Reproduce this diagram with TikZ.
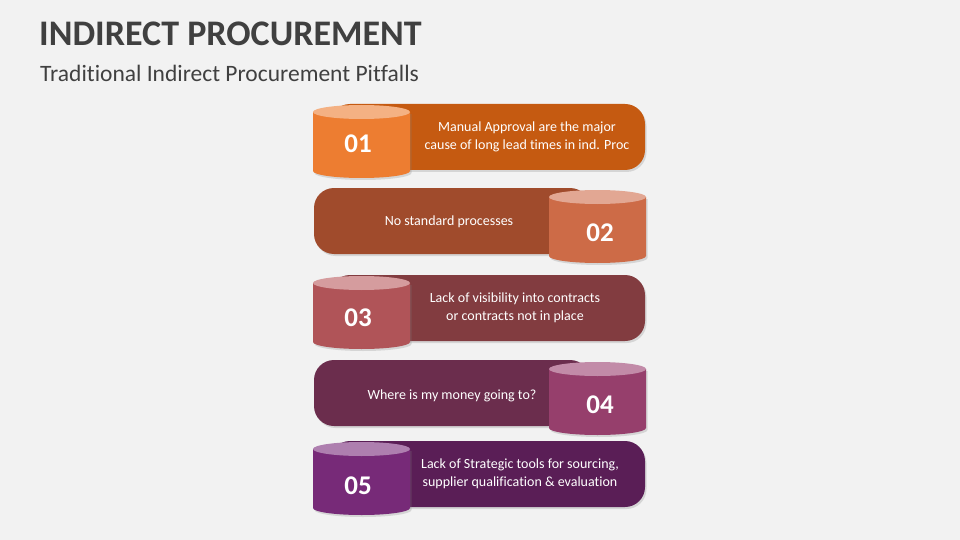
\documentclass[tikz,border=0pt]{standalone}
\usepackage{fontspec}
\setmainfont[Ligatures=NoCommon]{Carlito}
\usetikzlibrary{shadows}
\definecolor{bg}{HTML}{F2F2F2}
\definecolor{ttl}{HTML}{404040}
\definecolor{bandA}{HTML}{C55A11}\definecolor{bodyA}{HTML}{ED7D31}\definecolor{topA}{HTML}{F4B183}
\definecolor{bandB}{HTML}{A04B2C}\definecolor{bodyB}{HTML}{CD6B47}\definecolor{topB}{HTML}{E2A793}
\definecolor{bandC}{HTML}{823C40}\definecolor{bodyC}{HTML}{B05458}\definecolor{topC}{HTML}{D59C9E}
\definecolor{bandD}{HTML}{6B2D4D}\definecolor{bodyD}{HTML}{963F6C}\definecolor{topD}{HTML}{C28BA8}
\definecolor{bandE}{HTML}{5A1E56}\definecolor{bodyE}{HTML}{772A78}\definecolor{topE}{HTML}{AE7FAF}
\tikzset{
  shad/.style={drop shadow={opacity=0.25,shadow xshift=1.5pt,shadow yshift=-2pt}},
  numtxt/.style={text=white,font=\bfseries\fontsize{27}{27}\selectfont,inner sep=0pt},
  bodytxt/.style={text=white,font=\fontsize{14}{18}\selectfont,align=center,inner sep=0pt},
}
\newcommand\bandright[2]{\fill[#2,shad,rounded corners=20pt] (330,#1) -- (645,#1) -- (645,#1+66) -- (330,#1+66) -- cycle;}
\newcommand\bandleft[2]{\fill[#2,shad,rounded corners=20pt] (314,#1) -- (590,#1) -- (590,#1+66) -- (314,#1+66) -- cycle;}
\newcommand\cyl[4]{%
  \fill[#3,shad] (#1-48.5,#2+8) -- (#1-48.5,#2+67) arc[start angle=180,end angle=0,x radius=48.5,y radius=7] -- (#1+48.5,#2+8) -- cycle;
  \fill[#4] (#1,#2+8) ellipse[x radius=48.5,y radius=7];}
\begin{document}
\begin{tikzpicture}[x=1pt,y=-1pt]
\fill[bg] (0,0) rectangle (960,540);
\useasboundingbox (0,0) rectangle (960,540);
\node[anchor=base west,inner sep=0pt,text=ttl,font=\bfseries\fontsize{36}{36}\selectfont] (title) at (39,46) {INDIRECT PROCUREMENT};
\node[anchor=base west,inner sep=0pt,text=ttl,font=\fontsize{23.5}{23.5}\selectfont] (subtitle) at (40,82) {Traditional Indirect Procurement Pitfalls};
% row 1
\bandright{104}{bandA}
\cyl{361.5}{104}{bodyA}{topA}
\node[numtxt] (n1) at (358,144) {01};
\node[bodytxt] (t1) at (527,137) {Manual Approval are the major\\cause of long lead times in ind. Proc};
% row 2
\bandleft{188}{bandB}
\cyl{597.5}{189}{bodyB}{topB}
\node[numtxt] (n2) at (600,233) {02};
\node[bodytxt] (t2) at (449,222) {No standard processes};
% row 3
\bandright{275}{bandC}
\cyl{361.5}{275}{bodyC}{topC}
\node[numtxt] (n3) at (358,318) {03};
\node[bodytxt] (t3) at (515,308) {Lack of visibility into contracts\\or contracts not in place};
% row 4
\bandleft{360}{bandD}
\cyl{597.5}{361}{bodyD}{topD}
\node[numtxt] (n4) at (600,405) {04};
\node[bodytxt] (t4) at (452,396) {Where is my money going to?};
% row 5
\bandright{441}{bandE}
\cyl{361.5}{441}{bodyE}{topE}
\node[numtxt] (n5) at (358,486) {05};
\node[bodytxt] (t5) at (520,474) {Lack of Strategic tools for sourcing,\\supplier qualification \& evaluation};
\end{tikzpicture}
\end{document}
